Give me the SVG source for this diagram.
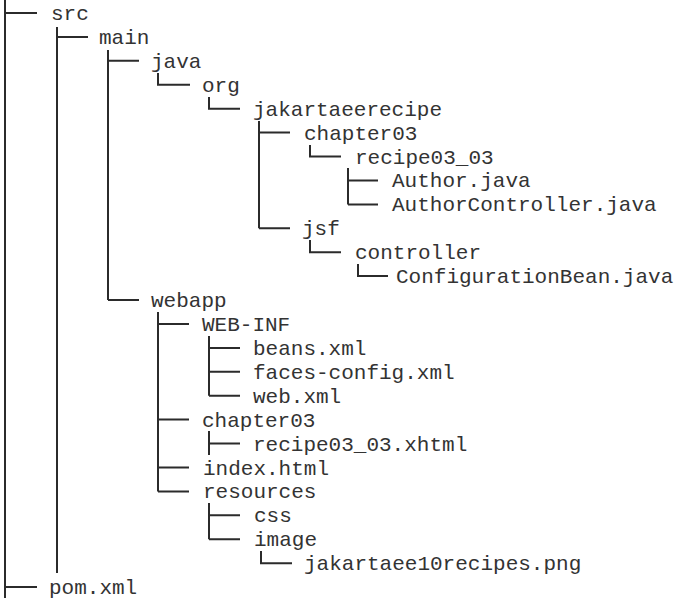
<svg xmlns="http://www.w3.org/2000/svg" width="685" height="607" viewBox="0 0 685 607">
<style>
.c{fill:none;stroke:#2b2b2b;stroke-width:2}
.t{font-family:"Liberation Mono","Courier New",monospace;font-size:21px;fill:#333}
</style>
<rect width="685" height="607" fill="#fff"/>
<g id="connectors" class="c">
<path d="M5 0V598M5 13H37M5 587H37"/>
<path d="M57 27V573M57 37H88"/>
<path d="M108 50V300M108 60.8H139M108 300H139"/>
<path d="M158 73V84.8H190"/>
<path d="M209 97V108.7H240"/>
<path d="M259 121V228.3M259 132.6H290M259 228.3H290"/>
<path d="M310 145V156.5H341"/>
<path d="M348 168V204.4M348 180.4H378M348 204.4H378"/>
<path d="M310 240V252.2H341"/>
<path d="M358 264V276.1H388"/>
<path d="M158 312V491.4M158 324H189M158 419.6H189M158 467.5H189M158 491.4H189"/>
<path d="M209 336V395.7M209 347.9H240M209 371.8H240M209 395.7H240"/>
<path d="M209 431V455M209 443.6H240"/>
<path d="M209 503V539.2M209 515.3H240M209 539.2H240"/>
<path d="M261 551V563.2H292"/>
</g>
<g id="src"><text class="t" x="51" y="20">src</text></g>
<g id="main"><text class="t" x="99" y="44">main</text></g>
<g id="java"><text class="t" x="151" y="68">java</text></g>
<g id="org"><text class="t" x="202" y="92">org</text></g>
<g id="jakartaeerecipe"><text class="t" x="253" y="116">jakartaeerecipe</text></g>
<g id="chapter03-java"><text class="t" x="304" y="140">chapter03</text></g>
<g id="recipe03_03"><text class="t" x="355" y="164">recipe03_03</text></g>
<g id="author"><text class="t" x="392" y="187">Author.java</text></g>
<g id="authorcontroller"><text class="t" x="392" y="211">AuthorController.java</text></g>
<g id="jsf"><text class="t" x="302" y="235">jsf</text></g>
<g id="controller"><text class="t" x="355" y="259">controller</text></g>
<g id="configurationbean"><text class="t" x="396" y="283">ConfigurationBean.java</text></g>
<g id="webapp"><text class="t" x="151" y="307">webapp</text></g>
<g id="web-inf"><text class="t" x="202" y="331">WEB-INF</text></g>
<g id="beans"><text class="t" x="253" y="355">beans.xml</text></g>
<g id="faces-config"><text class="t" x="253" y="379">faces-config.xml</text></g>
<g id="web"><text class="t" x="253" y="403">web.xml</text></g>
<g id="chapter03-webapp"><text class="t" x="202" y="427">chapter03</text></g>
<g id="recipe-xhtml"><text class="t" x="253" y="451">recipe03_03.xhtml</text></g>
<g id="index"><text class="t" x="203" y="475">index.html</text></g>
<g id="resources"><text class="t" x="203" y="498">resources</text></g>
<g id="css"><text class="t" x="254" y="522">css</text></g>
<g id="image"><text class="t" x="254" y="546">image</text></g>
<g id="png"><text class="t" x="304" y="570">jakartaee10recipes.png</text></g>
<g id="pom"><text class="t" x="49" y="594">pom.xml</text></g>
</svg>
